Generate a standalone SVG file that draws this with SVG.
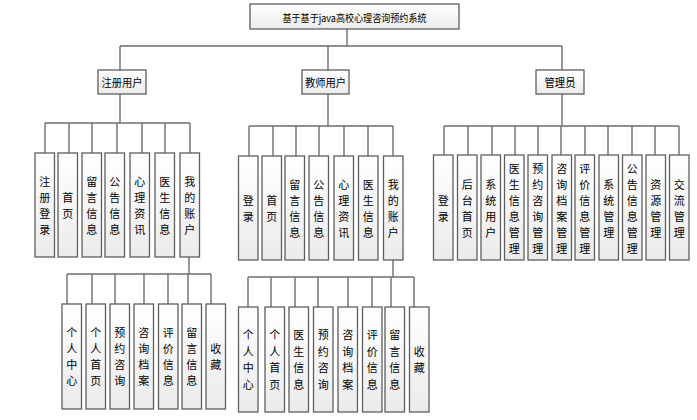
<svg xmlns="http://www.w3.org/2000/svg" width="697" height="420" viewBox="0 0 697 420">
<defs>
<linearGradient id="g" x1="0" y1="0" x2="0" y2="1">
<stop offset="0" stop-color="#ffffff"/>
<stop offset="1" stop-color="#ebebeb"/>
</linearGradient>
<style>
.b{fill:url(#g);stroke:#5e5e5e;stroke-width:1.3}
.t{font-family:"Noto Sans CJK SC","Liberation Sans",sans-serif;font-size:11px;fill:#000;text-anchor:middle;dominant-baseline:central}
.c{fill:none;stroke:#6e6e6e;stroke-width:1.4}
</style>
</defs>
<rect width="697" height="420" fill="#fff"/>
<g id="connectors" class="c">
<path d="M347 29V46M120 46H562M120 46V70M328 46V70M562 46V70"/>
<path d="M120 94V123M45 123H190M45 123V153M69 123V153M92 123V153M117 123V153M142 123V153M165 123V153M190 123V153"/>
<path d="M189 257V274M67 274H211M67 274V304M92 274V304M115 274V304M144 274V304M168 274V304M188 274V304M211 274V304"/>
<path d="M328 94V126M249 126H393M249 126V156M273 126V156M296 126V156M319 126V156M344 126V156M368 126V156M393 126V156"/>
<path d="M393 260V277M248 277H414M248 277V307M271 277V307M295 277V307M318 277V307M348 277V307M372 277V307M391 277V307M414 277V307"/>
<path d="M562 94V126M444 126H679M444 126V155M468 126V155M492 126V155M515 126V155M538 126V155M561 126V155M585 126V155M608 126V155M632 126V155M655 126V155M679 126V155"/>
</g>
<g id="root"><rect class="b" x="250" y="4" width="209" height="25"/><text class="t" x="354.5" y="17" style="font-size:10px" textLength="144" lengthAdjust="spacingAndGlyphs">基于基于java高校心理咨询预约系统</text></g>
<g id="reg"><rect class="b" x="98" y="70" width="48" height="24"/><text class="t" x="122" y="82" textLength="41" lengthAdjust="spacingAndGlyphs">注册用户</text></g>
<g id="tea"><rect class="b" x="302" y="70" width="47" height="24"/><text class="t" x="325.5" y="82" textLength="41" lengthAdjust="spacingAndGlyphs">教师用户</text></g>
<g id="adm"><rect class="b" x="536" y="70" width="48" height="24"/><text class="t" x="560" y="82" textLength="31" lengthAdjust="spacingAndGlyphs">管理员</text></g>

<g id="r1"><rect class="b" x="35" y="153" width="19.5" height="104"/><text class="t"><tspan x="44.75" y="181">注</tspan><tspan x="44.75" y="197">册</tspan><tspan x="44.75" y="213">登</tspan><tspan x="44.75" y="229">录</tspan></text></g>
<g id="r2"><rect class="b" x="58" y="153" width="19.5" height="104"/><text class="t"><tspan x="67.75" y="197">首</tspan><tspan x="67.75" y="213">页</tspan></text></g>
<g id="r3"><rect class="b" x="82" y="153" width="19.5" height="104"/><text class="t"><tspan x="91.75" y="181">留</tspan><tspan x="91.75" y="197">言</tspan><tspan x="91.75" y="213">信</tspan><tspan x="91.75" y="229">息</tspan></text></g>
<g id="r4"><rect class="b" x="105" y="153" width="19.5" height="104"/><text class="t"><tspan x="114.75" y="181">公</tspan><tspan x="114.75" y="197">告</tspan><tspan x="114.75" y="213">信</tspan><tspan x="114.75" y="229">息</tspan></text></g>
<g id="r5"><rect class="b" x="130" y="153" width="19.5" height="104"/><text class="t"><tspan x="139.75" y="181">心</tspan><tspan x="139.75" y="197">理</tspan><tspan x="139.75" y="213">资</tspan><tspan x="139.75" y="229">讯</tspan></text></g>
<g id="r6"><rect class="b" x="155" y="153" width="19.5" height="104"/><text class="t"><tspan x="164.75" y="181">医</tspan><tspan x="164.75" y="197">生</tspan><tspan x="164.75" y="213">信</tspan><tspan x="164.75" y="229">息</tspan></text></g>
<g id="r7"><rect class="b" x="180" y="153" width="19.5" height="104"/><text class="t"><tspan x="189.75" y="181">我</tspan><tspan x="189.75" y="197">的</tspan><tspan x="189.75" y="213">账</tspan><tspan x="189.75" y="229">户</tspan></text></g>

<g id="ra1"><rect class="b" x="62" y="304" width="19.5" height="105"/><text class="t"><tspan x="71.75" y="332">个</tspan><tspan x="71.75" y="348">人</tspan><tspan x="71.75" y="364">中</tspan><tspan x="71.75" y="380">心</tspan></text></g>
<g id="ra2"><rect class="b" x="86" y="304" width="19.5" height="105"/><text class="t"><tspan x="95.75" y="332">个</tspan><tspan x="95.75" y="348">人</tspan><tspan x="95.75" y="364">首</tspan><tspan x="95.75" y="380">页</tspan></text></g>
<g id="ra3"><rect class="b" x="110" y="304" width="19.5" height="105"/><text class="t"><tspan x="119.75" y="332">预</tspan><tspan x="119.75" y="348">约</tspan><tspan x="119.75" y="364">咨</tspan><tspan x="119.75" y="380">询</tspan></text></g>
<g id="ra4"><rect class="b" x="134" y="304" width="19.5" height="105"/><text class="t"><tspan x="143.75" y="332">咨</tspan><tspan x="143.75" y="348">询</tspan><tspan x="143.75" y="364">档</tspan><tspan x="143.75" y="380">案</tspan></text></g>
<g id="ra5"><rect class="b" x="158.5" y="304" width="19.5" height="105"/><text class="t"><tspan x="168.25" y="332">评</tspan><tspan x="168.25" y="348">价</tspan><tspan x="168.25" y="364">信</tspan><tspan x="168.25" y="380">息</tspan></text></g>
<g id="ra6"><rect class="b" x="182" y="304" width="19.5" height="105"/><text class="t"><tspan x="191.75" y="332">留</tspan><tspan x="191.75" y="348">言</tspan><tspan x="191.75" y="364">信</tspan><tspan x="191.75" y="380">息</tspan></text></g>
<g id="ra7"><rect class="b" x="206" y="304" width="19.5" height="105"/><text class="t"><tspan x="215.75" y="348">收</tspan><tspan x="215.75" y="364">藏</tspan></text></g>

<g id="t1"><rect class="b" x="238.5" y="156" width="19.5" height="104"/><text class="t"><tspan x="248.25" y="200">登</tspan><tspan x="248.25" y="216">录</tspan></text></g>
<g id="t2"><rect class="b" x="262" y="156" width="19.5" height="104"/><text class="t"><tspan x="271.75" y="200">首</tspan><tspan x="271.75" y="216">页</tspan></text></g>
<g id="t3"><rect class="b" x="285" y="156" width="19.5" height="104"/><text class="t"><tspan x="294.75" y="184">留</tspan><tspan x="294.75" y="200">言</tspan><tspan x="294.75" y="216">信</tspan><tspan x="294.75" y="232">息</tspan></text></g>
<g id="t4"><rect class="b" x="309" y="156" width="19.5" height="104"/><text class="t"><tspan x="318.75" y="184">公</tspan><tspan x="318.75" y="200">告</tspan><tspan x="318.75" y="216">信</tspan><tspan x="318.75" y="232">息</tspan></text></g>
<g id="t5"><rect class="b" x="334" y="156" width="19.5" height="104"/><text class="t"><tspan x="343.75" y="184">心</tspan><tspan x="343.75" y="200">理</tspan><tspan x="343.75" y="216">资</tspan><tspan x="343.75" y="232">讯</tspan></text></g>
<g id="t6"><rect class="b" x="358.5" y="156" width="19.5" height="104"/><text class="t"><tspan x="368.25" y="184">医</tspan><tspan x="368.25" y="200">生</tspan><tspan x="368.25" y="216">信</tspan><tspan x="368.25" y="232">息</tspan></text></g>
<g id="t7"><rect class="b" x="383.5" y="156" width="19.5" height="104"/><text class="t"><tspan x="393.25" y="184">我</tspan><tspan x="393.25" y="200">的</tspan><tspan x="393.25" y="216">账</tspan><tspan x="393.25" y="232">户</tspan></text></g>

<g id="ta1"><rect class="b" x="238.5" y="307" width="19.5" height="105"/><text class="t"><tspan x="248.25" y="334">个</tspan><tspan x="248.25" y="350.5">人</tspan><tspan x="248.25" y="367">中</tspan><tspan x="248.25" y="383.5">心</tspan></text></g>
<g id="ta2"><rect class="b" x="265" y="307" width="19.5" height="105"/><text class="t"><tspan x="274.75" y="334">个</tspan><tspan x="274.75" y="350.5">人</tspan><tspan x="274.75" y="367">首</tspan><tspan x="274.75" y="383.5">页</tspan></text></g>
<g id="ta3"><rect class="b" x="289" y="307" width="19.5" height="105"/><text class="t"><tspan x="298.75" y="334">医</tspan><tspan x="298.75" y="350.5">生</tspan><tspan x="298.75" y="367">信</tspan><tspan x="298.75" y="383.5">息</tspan></text></g>
<g id="ta4"><rect class="b" x="313.5" y="307" width="19.5" height="105"/><text class="t"><tspan x="323.25" y="334">预</tspan><tspan x="323.25" y="350.5">约</tspan><tspan x="323.25" y="367">咨</tspan><tspan x="323.25" y="383.5">询</tspan></text></g>
<g id="ta5"><rect class="b" x="338" y="307" width="19.5" height="105"/><text class="t"><tspan x="347.75" y="334">咨</tspan><tspan x="347.75" y="350.5">询</tspan><tspan x="347.75" y="367">档</tspan><tspan x="347.75" y="383.5">案</tspan></text></g>
<g id="ta6"><rect class="b" x="362.5" y="307" width="19.5" height="105"/><text class="t"><tspan x="372.25" y="334">评</tspan><tspan x="372.25" y="350.5">价</tspan><tspan x="372.25" y="367">信</tspan><tspan x="372.25" y="383.5">息</tspan></text></g>
<g id="ta7"><rect class="b" x="385" y="307" width="19.5" height="105"/><text class="t"><tspan x="394.75" y="334">留</tspan><tspan x="394.75" y="350.5">言</tspan><tspan x="394.75" y="367">信</tspan><tspan x="394.75" y="383.5">息</tspan></text></g>
<g id="ta8"><rect class="b" x="409.5" y="307" width="19.5" height="105"/><text class="t"><tspan x="419.25" y="350.5">收</tspan><tspan x="419.25" y="367">藏</tspan></text></g>

<g id="a1"><rect class="b" x="433.5" y="155" width="19.5" height="105"/><text class="t"><tspan x="443.25" y="199.5">登</tspan><tspan x="443.25" y="215.5">录</tspan></text></g>
<g id="a2"><rect class="b" x="457.5" y="155" width="19.5" height="105"/><text class="t"><tspan x="467.25" y="183.5">后</tspan><tspan x="467.25" y="199.5">台</tspan><tspan x="467.25" y="215.5">首</tspan><tspan x="467.25" y="231.5">页</tspan></text></g>
<g id="a3"><rect class="b" x="481" y="155" width="19.5" height="105"/><text class="t"><tspan x="490.75" y="183.5">系</tspan><tspan x="490.75" y="199.5">统</tspan><tspan x="490.75" y="215.5">用</tspan><tspan x="490.75" y="231.5">户</tspan></text></g>
<g id="a4"><rect class="b" x="504.5" y="155" width="19.5" height="105"/><text class="t"><tspan x="514.25" y="167.5">医</tspan><tspan x="514.25" y="183.5">生</tspan><tspan x="514.25" y="199.5">信</tspan><tspan x="514.25" y="215.5">息</tspan><tspan x="514.25" y="231.5">管</tspan><tspan x="514.25" y="247.5">理</tspan></text></g>
<g id="a5"><rect class="b" x="528" y="155" width="19.5" height="105"/><text class="t"><tspan x="537.75" y="167.5">预</tspan><tspan x="537.75" y="183.5">约</tspan><tspan x="537.75" y="199.5">咨</tspan><tspan x="537.75" y="215.5">询</tspan><tspan x="537.75" y="231.5">管</tspan><tspan x="537.75" y="247.5">理</tspan></text></g>
<g id="a6"><rect class="b" x="552" y="155" width="19.5" height="105"/><text class="t"><tspan x="561.75" y="167.5">咨</tspan><tspan x="561.75" y="183.5">询</tspan><tspan x="561.75" y="199.5">档</tspan><tspan x="561.75" y="215.5">案</tspan><tspan x="561.75" y="231.5">管</tspan><tspan x="561.75" y="247.5">理</tspan></text></g>
<g id="a7"><rect class="b" x="575" y="155" width="19.5" height="105"/><text class="t"><tspan x="584.75" y="167.5">评</tspan><tspan x="584.75" y="183.5">价</tspan><tspan x="584.75" y="199.5">信</tspan><tspan x="584.75" y="215.5">息</tspan><tspan x="584.75" y="231.5">管</tspan><tspan x="584.75" y="247.5">理</tspan></text></g>
<g id="a8"><rect class="b" x="599" y="155" width="19.5" height="105"/><text class="t"><tspan x="608.75" y="183.5">系</tspan><tspan x="608.75" y="199.5">统</tspan><tspan x="608.75" y="215.5">管</tspan><tspan x="608.75" y="231.5">理</tspan></text></g>
<g id="a9"><rect class="b" x="622.5" y="155" width="19.5" height="105"/><text class="t"><tspan x="632.25" y="167.5">公</tspan><tspan x="632.25" y="183.5">告</tspan><tspan x="632.25" y="199.5">信</tspan><tspan x="632.25" y="215.5">息</tspan><tspan x="632.25" y="231.5">管</tspan><tspan x="632.25" y="247.5">理</tspan></text></g>
<g id="a10"><rect class="b" x="646" y="155" width="19.5" height="105"/><text class="t"><tspan x="655.75" y="183.5">资</tspan><tspan x="655.75" y="199.5">源</tspan><tspan x="655.75" y="215.5">管</tspan><tspan x="655.75" y="231.5">理</tspan></text></g>
<g id="a11"><rect class="b" x="669.5" y="155" width="19.5" height="105"/><text class="t"><tspan x="679.25" y="183.5">交</tspan><tspan x="679.25" y="199.5">流</tspan><tspan x="679.25" y="215.5">管</tspan><tspan x="679.25" y="231.5">理</tspan></text></g>
</svg>
